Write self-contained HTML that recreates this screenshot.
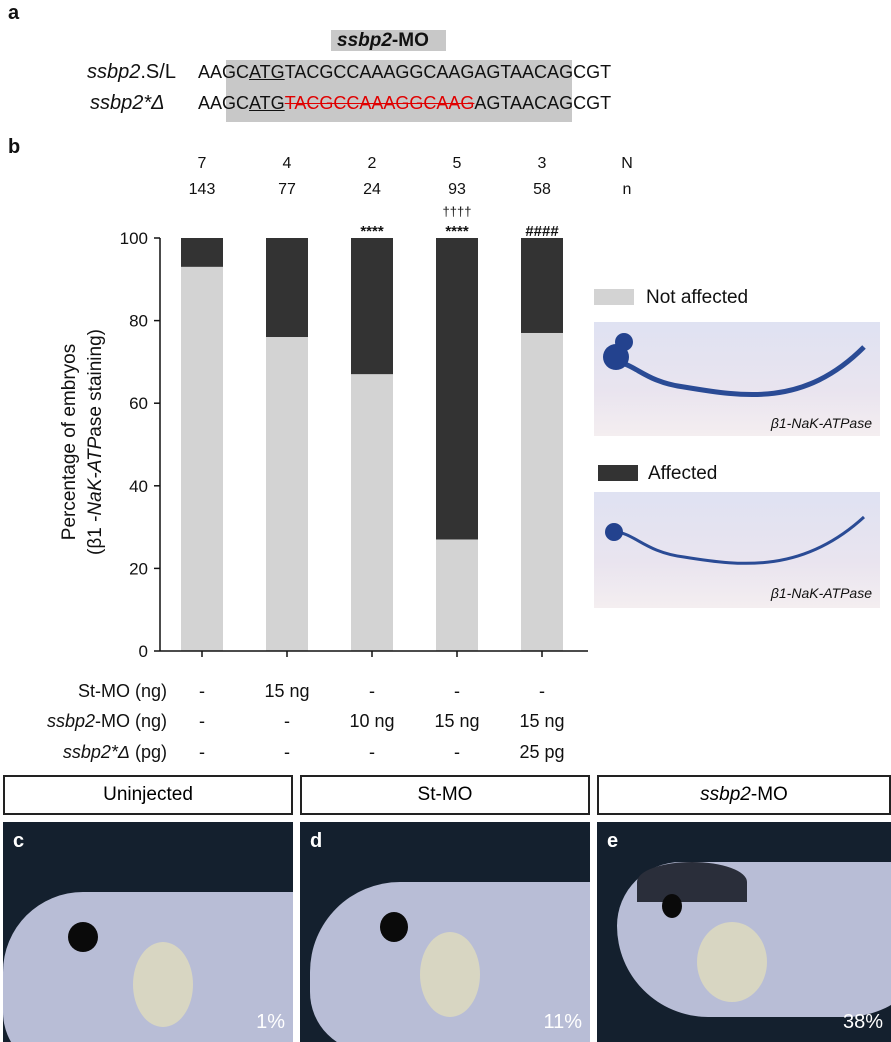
<!DOCTYPE html>
<html><head><meta charset="utf-8"><style>
body{margin:0;background:#fff;font-family:"Liberation Sans",sans-serif;}
#root{position:relative;width:891px;height:1042px;overflow:hidden;}
.t{position:absolute;white-space:nowrap;color:#111;}
.photo{position:absolute;background:#14202e;overflow:hidden;}
</style></head><body>
<div id="root">
<div class="t" style="left:8px;top:2px;font-size:20px;font-weight:bold">a</div>
<div style="position:absolute;left:331px;top:30px;width:115px;height:21px;background:#c8c8c8"></div>
<div class="t" style="left:337px;top:30px;font-size:19px;font-weight:bold"><i>ssbp2</i>-MO</div>
<div style="position:absolute;left:226px;top:60px;width:346px;height:62px;background:#c8c8c8"></div>
<div class="t" style="left:87px;top:61px;font-size:20px"><i>ssbp2</i>.S/L</div>
<div class="t" style="left:198px;top:62px;font-size:18px">AAGC<u>ATG</u>TACGCCAAAGGCAAGAGTAACAGCGT</div>
<div class="t" style="left:90px;top:92px;font-size:20px"><i>ssbp2*Δ</i></div>
<div class="t" style="left:198px;top:93px;font-size:18px">AAGC<u>ATG</u><s style="color:#e00000">TACGCCAAAGGCAAG</s>AGTAACAGCGT</div>
<div class="t" style="left:8px;top:136px;font-size:20px;font-weight:bold">b</div>
<svg id="chart" width="891" height="780" style="position:absolute;left:0;top:0"></svg>
<div class="t" style="left:594px;top:287px;font-size:19px"><span style="display:inline-block;width:40px;height:16px;background:#d3d3d3;vertical-align:-2px;margin-right:12px"></span>Not affected</div>
<div class="photo" style="left:594px;top:322px;width:286px;height:114px;background:linear-gradient(#dfe2f2,#e9e4ef 60%,#f4eef0)">
<svg width="286" height="114"><path d="M20 40 C40 40 50 60 90 65 C150 75 210 85 270 25" stroke="#2a4b95" stroke-width="5" fill="none"/><circle cx="22" cy="35" r="13" fill="#23428e"/><circle cx="30" cy="20" r="9" fill="#23428e"/></svg>
<div class="t" style="right:8px;top:93px;font-size:14px"><i>β1-NaK-ATPase</i></div></div>
<div class="t" style="left:598px;top:463px;font-size:19px"><span style="display:inline-block;width:40px;height:16px;background:#333;vertical-align:-2px;margin-right:10px"></span>Affected</div>
<div class="photo" style="left:594px;top:492px;width:286px;height:116px;background:linear-gradient(#dfe2f2,#e9e4ef 60%,#f4eef0)">
<svg width="286" height="116"><path d="M20 40 C40 40 50 60 90 65 C150 75 210 80 270 25" stroke="#2a4b95" stroke-width="3" fill="none"/><circle cx="20" cy="40" r="9" fill="#23428e"/></svg>
<div class="t" style="right:8px;top:93px;font-size:14px"><i>β1-NaK-ATPase</i></div></div>
<div id="cond"></div>
<div style="position:absolute;left:3px;top:775px;width:286px;height:36px;border:2px solid #222;text-align:center;font-size:19px;line-height:36px">Uninjected</div>
<div style="position:absolute;left:300px;top:775px;width:286px;height:36px;border:2px solid #222;text-align:center;font-size:19px;line-height:36px">St-MO</div>
<div style="position:absolute;left:597px;top:775px;width:290px;height:36px;border:2px solid #222;text-align:center;font-size:19px;line-height:36px"><i>ssbp2</i>-MO</div>
<div class="photo" style="left:3px;top:822px;width:290px;height:220px">
<div style="position:absolute;left:0;top:70px;width:320px;height:180px;background:#b8bdd6;border-radius:80px 0 0 60px"></div>
<div style="position:absolute;left:65px;top:100px;width:30px;height:30px;background:#0a0a0a;border-radius:50%"></div>
<div style="position:absolute;left:130px;top:120px;width:60px;height:85px;background:#d8d6c2;border-radius:50%"></div>
<div class="t" style="left:10px;top:8px;font-size:20px;font-weight:bold;color:#fff">c</div>
<div class="t" style="right:8px;bottom:8px;font-size:20px;color:#fff">1%</div></div>
<div class="photo" style="left:300px;top:822px;width:290px;height:220px">
<div style="position:absolute;left:10px;top:60px;width:320px;height:170px;background:#b8bdd6;border-radius:90px 0 0 60px"></div>
<div style="position:absolute;left:80px;top:90px;width:28px;height:30px;background:#0a0a0a;border-radius:50%"></div>
<div style="position:absolute;left:120px;top:110px;width:60px;height:85px;background:#d8d6c2;border-radius:50%"></div>
<div class="t" style="left:10px;top:8px;font-size:20px;font-weight:bold;color:#fff">d</div>
<div class="t" style="right:8px;bottom:8px;font-size:20px;color:#fff">11%</div></div>
<div class="photo" style="left:597px;top:822px;width:294px;height:220px">
<div style="position:absolute;left:20px;top:40px;width:320px;height:155px;background:#b8bdd6;border-radius:70px 0 100px 100px"></div>
<div style="position:absolute;left:40px;top:40px;width:110px;height:40px;background:#2a2e3a;border-radius:50% 50% 0 0"></div>
<div style="position:absolute;left:65px;top:72px;width:20px;height:24px;background:#0a0a0a;border-radius:50%"></div>
<div style="position:absolute;left:100px;top:100px;width:70px;height:80px;background:#d8d6c2;border-radius:50%"></div>
<div class="t" style="left:10px;top:8px;font-size:20px;font-weight:bold;color:#fff">e</div>
<div class="t" style="right:8px;bottom:8px;font-size:20px;color:#fff">38%</div></div>
</div>
<script>
const categories=["Uninjected","St-MO 15","ssbp2-MO 10","ssbp2-MO 15","rescue"];
const notAffected=[93,76,67,27,77];
const Nvals=["7","4","2","5","3"];
const nvals=["143","77","24","93","58"];
const sig1=["","","","††††",""];
const sig2=["","","****","****","####"];
const yTicks=[0,20,40,60,80,100];
const stMO=["-","15 ng","-","-","-"];
const ssMO=["-","-","10 ng","15 ng","15 ng"];
const resc=["-","-","-","-","25 pg"];
const NS="http://www.w3.org/2000/svg";
const svg=document.getElementById('chart');
const y=v=>651-v*4.13;
const x=i=>202+i*85;
function el(t,a){const e=document.createElementNS(NS,t);for(const k in a)e.setAttribute(k,a[k]);svg.appendChild(e);return e;}
function txt(s,a){const e=el('text',Object.assign({'font-family':'Liberation Sans, sans-serif','font-size':16,fill:'#111','text-anchor':'middle'},a));e.textContent=s;return e;}
categories.forEach((c,i)=>{
 const r1=el('rect',{x:x(i)-21,y:y(100),width:42,height:y(notAffected[i])-y(100),fill:'#333'});
 
 
 const r2=el('rect',{x:x(i)-21,y:y(notAffected[i]),width:42,height:y(0)-y(notAffected[i]),fill:'#d3d3d3'});
 
 
 txt(Nvals[i],{x:x(i),y:168});txt(nvals[i],{x:x(i),y:194});
 if(sig1[i])txt(sig1[i],{x:x(i),y:216,'font-size':13});
 if(sig2[i])txt(sig2[i],{x:x(i),y:236,'font-size':15,'font-weight':'bold'});
 el('line',{x1:x(i),x2:x(i),y1:651,y2:657,stroke:'#111','stroke-width':1.5});
});
txt('N',{x:627,y:168});txt('n',{x:627,y:194});
el('line',{x1:160,x2:160,y1:y(100),y2:y(0),stroke:'#111','stroke-width':1.5});
el('line',{x1:160,x2:588,y1:y(0),y2:y(0),stroke:'#111','stroke-width':1.5});
yTicks.forEach(t=>{el('line',{x1:154,x2:160,y1:y(t),y2:y(t),stroke:'#111','stroke-width':1.5});
 txt(String(t),{x:148,y:y(t)+6,'text-anchor':'end','font-size':17});});
const yt=txt('Percentage of embryos',{x:0,y:0,transform:'translate(75,442) rotate(-90)','font-size':19});


const yt2=el('text',{transform:'translate(101,442) rotate(-90)','font-family':'Liberation Sans, sans-serif','font-size':19,'text-anchor':'middle',fill:'#111'});
yt2.innerHTML='(β1 -<tspan font-style="italic">NaK-ATP</tspan>ase staining)';
const rows=[[stMO,'St-MO (ng)',692],[ssMO,'<i>ssbp2</i>-MO (ng)',722],[resc,'<i>ssbp2*Δ</i> (pg)',753]];
const cond=document.getElementById('cond');
rows.forEach((r,ri)=>{
 const l=document.createElement('div');l.className='t';l.style.cssText=`right:${891-167}px;top:${r[2]-11}px;font-size:18px`;l.innerHTML=r[1];
 
 
 cond.appendChild(l);
 r[0].forEach((v,i)=>{const d=document.createElement('div');d.className='t';d.style.cssText=`left:${x(i)-40}px;width:80px;text-align:center;top:${r[2]-11}px;font-size:18px`;d.textContent=v;
 
 
 cond.appendChild(d);});
});
</script>
</body></html>
